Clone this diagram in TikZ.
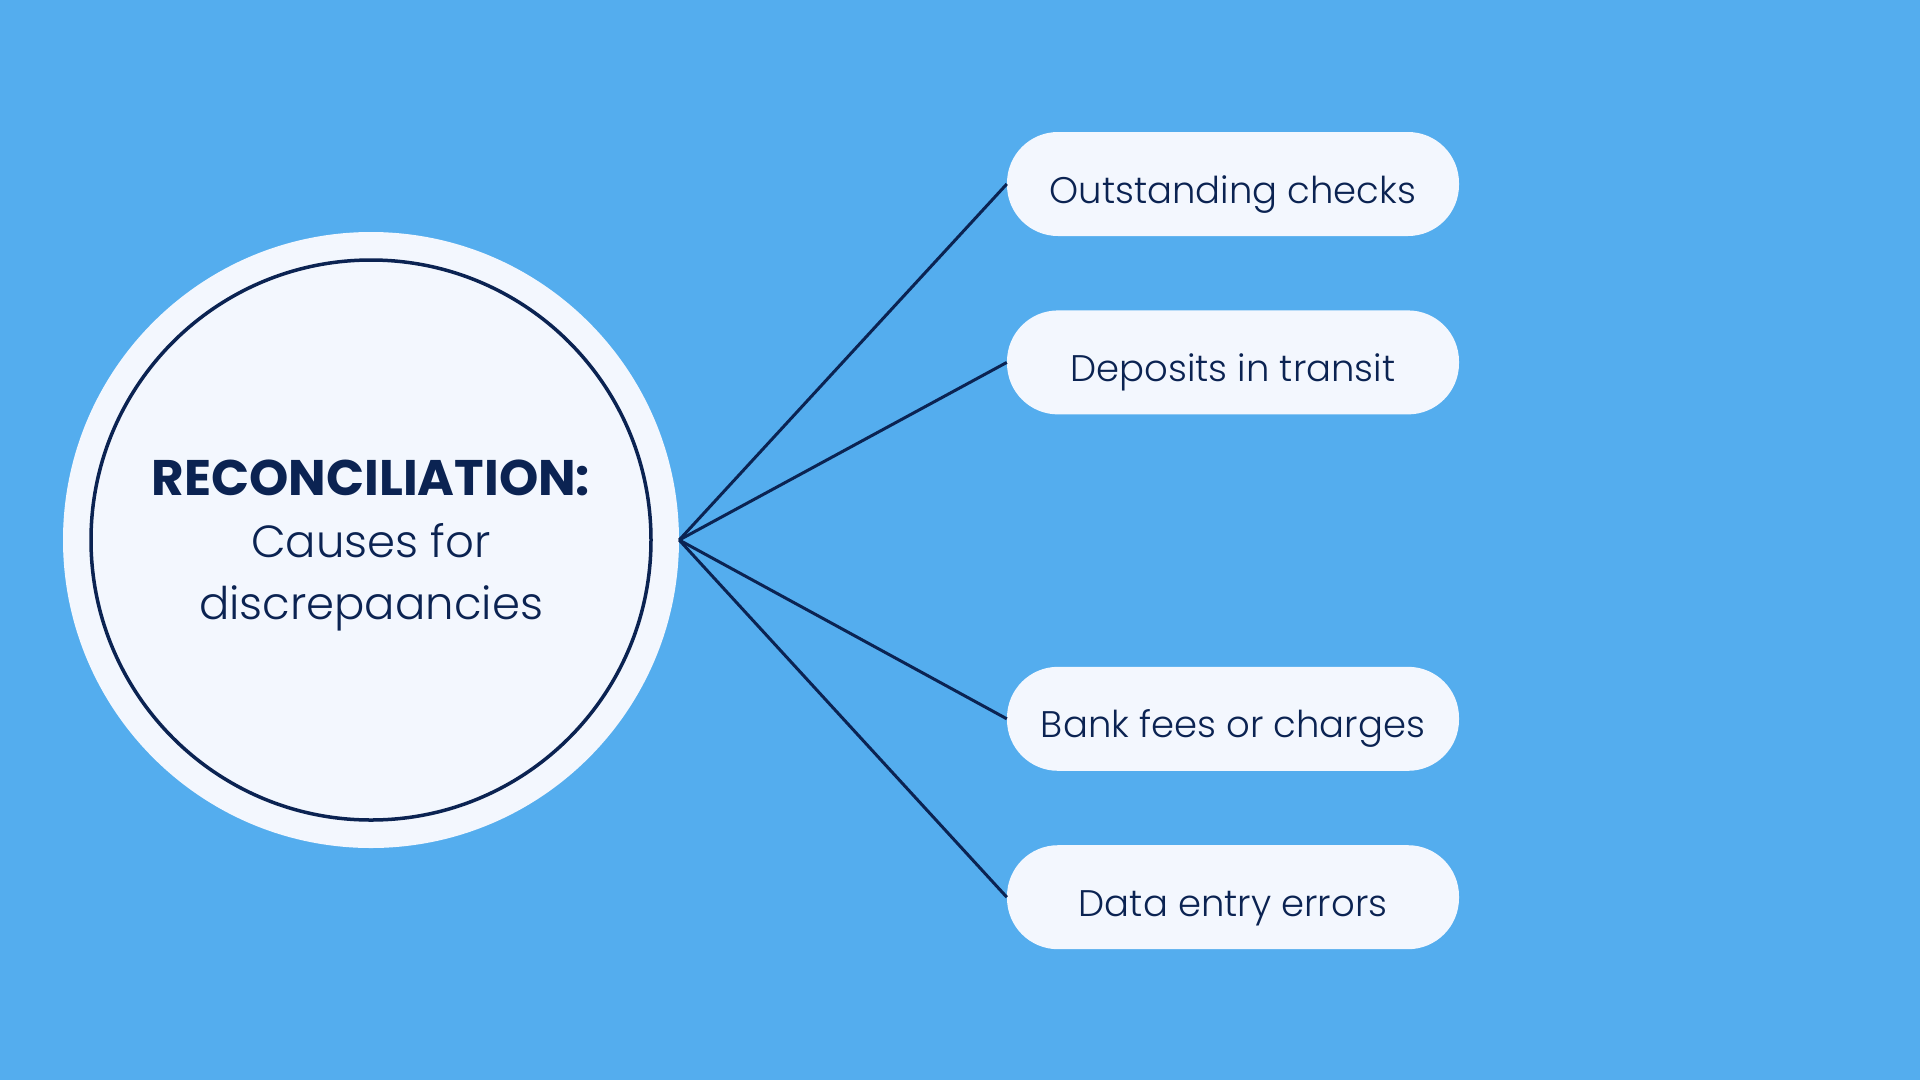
\documentclass[tikz,border=0pt]{standalone}
\usepackage{fontspec}
\setmainfont{Poppins}[UprightFont=* Light, BoldFont=* Bold]
\usetikzlibrary{positioning}
\definecolor{sky}{HTML}{54ADEE}
\definecolor{paper}{HTML}{F3F7FE}
\definecolor{navy}{HTML}{0B2352}
\tikzset{
    cause/.style = {rectangle, rounded corners=51pt, fill=paper, text=navy,
                    minimum width=452pt, minimum height=104pt, text height=38pt, text depth=0pt,
                    font=\fontsize{37}{44}\selectfont},
    link/.style = {draw=navy, line width=3pt}
}

\begin{document}
\begin{tikzpicture}[x=1pt, y=-1pt]
        \fill[sky] (0,0) rectangle (1920,1080);
        \useasboundingbox (0,0) rectangle (1920,1080);

        \node[circle, fill=paper, minimum size=616pt, inner sep=0pt] (hub) at (371,540) {};
        \node[circle, draw=navy, line width=3.5pt, minimum size=560pt, inner sep=0pt] (ring) at (hub) {};
        \node[text=navy, align=center, font=\fontsize{45}{62}\selectfont] (title) at ([yshift=-5pt]ring.center)
            {{\fontsize{50}{62}\selectfont\bfseries RECONCILIATION:}\\Causes for\\discrepaancies};

        \node[cause] (c1) at (1233,184) {Outstanding checks};
        \node[cause, below=74pt of c1] (c2) {Deposits in transit};
        \node[cause, below=252pt of c2] (c3) {Bank fees or charges};
        \node[cause, below=74pt of c3] (c4) {Data entry errors};

        \path[link] (hub.east) -- (c1.west);
        \path[link] (hub.east) -- (c2.west);
        \path[link] (hub.east) -- (c3.west);
        \path[link] (hub.east) -- (c4.west);
    \end{tikzpicture}
\end{document}
